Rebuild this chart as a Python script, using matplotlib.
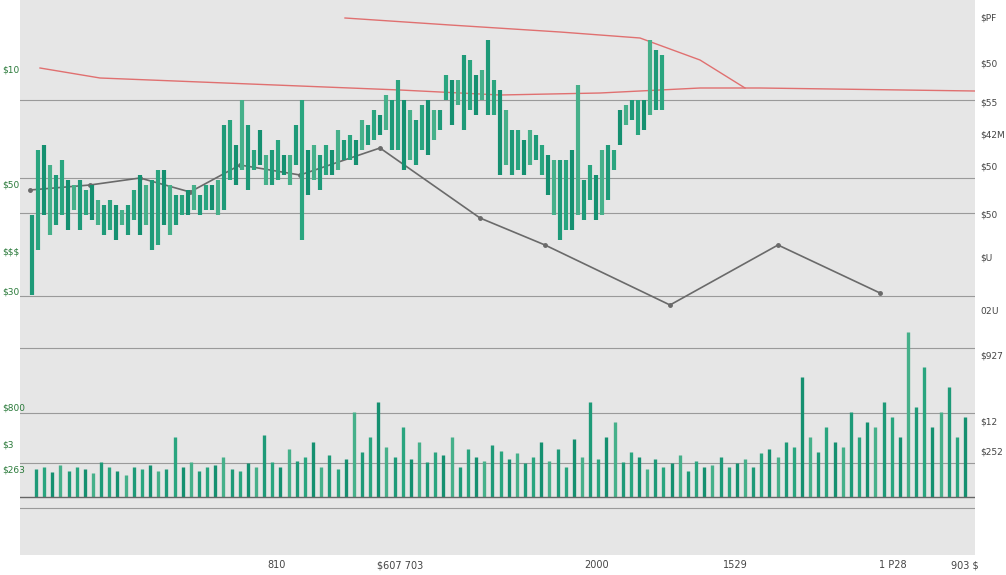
import numpy as np
import matplotlib.pyplot as plt

# price bars: (x, top, bottom) read in pixel-like units of the picture
bar_x = np.arange(32, 666, 6)
bar_top = [215,150,145,165,175,160,180,185,180,190,185,200,205,200,205,210,205,190,175,185,
           180,170,170,185,195,195,190,185,195,185,185,180,125,120,145,100,125,150,130,155,
           150,140,155,155,125,100,150,145,155,145,150,130,140,135,140,120,125,110,115,95,
           100,80,100,110,120,105,100,110,110,75,80,80,55,60,75,70,40,80,90,110,
           130,130,140,130,135,145,155,160,160,160,150,85,180,165,175,150,145,150,110,105,
           100,100,100,40,50,55]
bar_bot = [295,250,215,235,225,215,230,210,230,215,220,225,235,230,240,225,235,220,235,225,
           250,245,225,235,225,215,215,210,215,210,210,215,210,180,185,170,190,170,165,185,
           185,180,175,185,165,240,195,180,190,175,175,170,160,160,165,150,145,140,135,130,
           150,150,170,160,165,150,155,140,130,100,125,105,130,110,115,100,115,115,175,165,
           175,170,175,165,160,175,195,215,240,230,230,215,220,200,220,215,200,170,145,125,
           120,135,130,115,110,110]

gray_x = [30, 90, 140, 190, 240, 300, 380, 480, 545, 670, 778, 880]
gray_y = [190, 185, 178, 192, 165, 175, 148, 218, 245, 305, 245, 293]
red1_x = [40, 100, 200, 300, 400, 500, 600, 700, 760, 975]
red1_y = [68, 78, 82, 86, 90, 95, 93, 88, 88, 91]
red2_x = [345, 450, 560, 640, 700, 745]
red2_y = [18, 25, 32, 38, 60, 88]

vol = [28,30,25,32,26,30,28,24,35,30,26,22,30,28,32,26,28,60,30,35,
       26,30,32,40,28,26,34,30,62,35,30,48,36,40,55,30,42,28,38,85,
       45,60,95,50,40,70,38,55,35,45,42,60,30,48,40,36,52,46,38,44,
       34,40,55,36,48,30,58,40,95,38,60,75,35,45,40,28,38,30,34,42,
       26,36,30,32,40,30,34,38,30,44,48,40,55,50,120,60,45,70,55,50,
       85,60,75,70,95,80,60,165,90,130,70,85,110,60,80]
vol_x = np.linspace(36, 965, len(vol))

grid_y = [100, 178, 213, 296, 348, 413, 463, 508]

fig = plt.figure(figsize=(10.06, 5.75), dpi=100)
fig.patch.set_facecolor("white")
ax = fig.add_axes([20/1006, 20/575, 955/1006, 555/575])
ax.set_xlim(20, 975)
ax.set_ylim(555, 0)
ax.axis("off")
ax.add_patch(plt.Rectangle((20, 0), 955, 555, color="#e6e6e6", zorder=0))

for g in grid_y:
    ax.axhline(g, color="#9a9a9a", lw=0.8, zorder=1)

greens = ["#1e9a78", "#2aa57f", "#159070", "#46b08a"]
for i, (x, t, b) in enumerate(zip(bar_x, bar_top, bar_bot)):
    ax.vlines(x, t, b, color=greens[i % 4], lw=3, zorder=3)

ax.plot(gray_x, gray_y, color="#6a6a6a", lw=1.2, marker="o", ms=2.5, zorder=2)
ax.plot(red1_x, red1_y, color="#e07070", lw=1, zorder=2)
ax.plot(red2_x, red2_y, color="#e07070", lw=1, zorder=2)

base = 497
for i, (x, v) in enumerate(zip(vol_x, vol)):
    ax.vlines(x, base - v, base, color=greens[i % 4], lw=2.4, zorder=3)
ax.axhline(base, color="#666666", lw=1, zorder=4)

for x, s in [(277, "810"), (400, "$607 703"), (597, "2000"), (735, "1529"),
             (893, "1 P28"), (965, "903 $")]:
    fig.text(x/1006, 1 - 565/575, s, fontsize=7, color="#444444", ha="center", va="center")
for y, s in [(70, "$10"), (185, "$50"), (252, "$$$"), (292, "$30"), (408, "$800"), (445, "$3"), (470, "$263")]:
    fig.text(2/1006, 1 - y/575, s, fontsize=6.5, color="#2a7a3a", ha="left", va="center")
for y, s in [(18, "$PF"), (64, "$50"), (103, "$55"), (135, "$42M"), (167, "$50"), (215, "$50"),
             (258, "$U"), (310, "$02$U"), (356, "$927"), (422, "$12"), (452, "$252")]:
    fig.text(980/1006, 1 - y/575, s, fontsize=6.5, color="#444444", ha="left", va="center")

fig.savefig("out.png", dpi=100)
